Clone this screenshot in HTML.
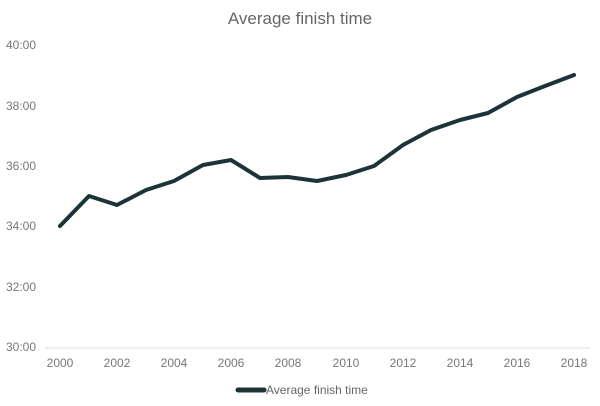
<!DOCTYPE html>
<html><head><meta charset="utf-8"><style>
html,body{margin:0;padding:0;background:#fff;}
svg{display:block;font-family:"Liberation Sans",Arial,sans-serif;}
</style></head><body>
<svg width="600" height="406" viewBox="0 0 600 406">
<text x="300" y="24" text-anchor="middle" font-size="17" fill="#666">Average finish time</text>
<g font-size="12" fill="#777" text-anchor="end">
<text x="36" y="49">40:00</text>
<text x="36" y="110">38:00</text>
<text x="36" y="170">36:00</text>
<text x="36" y="230">34:00</text>
<text x="36" y="291">32:00</text>
<text x="36" y="351">30:00</text>
</g>
<line x1="45" y1="348" x2="590" y2="348" stroke="#ddd" stroke-width="1"/>
<g font-size="12" fill="#777" text-anchor="middle">
<text x="60" y="367">2000</text><text x="117" y="367">2002</text><text x="174" y="367">2004</text>
<text x="231" y="367">2006</text><text x="288" y="367">2008</text><text x="346" y="367">2010</text>
<text x="403" y="367">2012</text><text x="460" y="367">2014</text><text x="517" y="367">2016</text>
<text x="574" y="367">2018</text>
</g>
<polyline fill="none" stroke="#1c3438" stroke-width="4" stroke-linejoin="round" stroke-linecap="round"
points="60,226 89,196 117,205 146,190 174,181 203,165 231,160 260,178 288,177 317,181 346,175 374,166 403,145 431,130 460,120 488,113 517,97 545,86 574,75"/>
<line x1="238" y1="390" x2="264" y2="390" stroke="#1c3438" stroke-width="5" stroke-linecap="round"/>
<text x="266" y="394" font-size="12" fill="#666">Average finish time</text>
</svg>
</body></html>
